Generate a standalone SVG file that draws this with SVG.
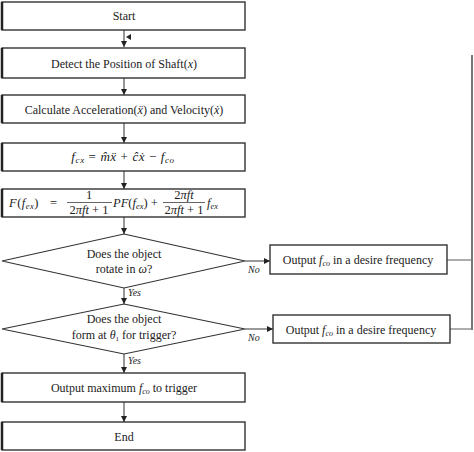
<svg xmlns="http://www.w3.org/2000/svg" width="474" height="452" viewBox="0 0 474 452">
<defs>
<marker id="ah" viewBox="0 0 6 6" refX="6" refY="3" markerWidth="6" markerHeight="6" markerUnits="userSpaceOnUse" orient="auto">
<path d="M0,0 L6,3 L0,6 z" fill="#222"/>
</marker>
</defs>
<style>
text{font-family:'Liberation Serif','Times New Roman','DejaVu Serif',serif}
.box{fill:#fff;stroke:#333;stroke-width:1.4}
.edge{stroke:#222;stroke-width:2.5}
.t{font-size:12px;fill:#222;text-anchor:middle}
.m{font-size:13px;fill:#222;font-style:italic}
.f{font-size:12.5px;fill:#222;font-style:italic}
.n{font-style:normal}
.lbl{font-size:10px;fill:#222;font-style:italic}
.c{stroke:#333;stroke-width:1;fill:none}
.g{stroke:#777;stroke-width:1.2;fill:none}
</style>
<g id="connectors">
<line class="c" x1="124" y1="30" x2="124" y2="47" marker-end="url(#ah)"/>
<path d="M131,34 L126,37 L131,40 z" fill="#222"/>
<line class="c" x1="124" y1="78" x2="124" y2="95" marker-end="url(#ah)"/>
<line class="c" x1="124" y1="123" x2="124" y2="143" marker-end="url(#ah)"/>
<line class="c" x1="124" y1="171" x2="124" y2="189" marker-end="url(#ah)"/>
<line class="c" x1="124" y1="217" x2="124" y2="234" marker-end="url(#ah)"/>
<line class="c" x1="124" y1="288" x2="124" y2="304" marker-end="url(#ah)"/>
<line class="c" x1="124" y1="354" x2="124" y2="373" marker-end="url(#ah)"/>
<line class="c" x1="124" y1="402" x2="124" y2="422" marker-end="url(#ah)"/>
<line class="c" x1="245" y1="261" x2="270" y2="261" marker-end="url(#ah)"/>
<line class="c" x1="245" y1="329" x2="273" y2="329" marker-end="url(#ah)"/>
<polyline class="g" points="447,260 472,260"/>
<polyline class="g" points="450,329 472,329"/>
<line x1="472" y1="55" x2="472" y2="330" stroke="#777" stroke-width="2"/>
<text class="lbl" x="128" y="296">Yes</text>
<text class="lbl" x="128" y="364">Yes</text>
<text class="lbl" x="248" y="273">No</text>
<text class="lbl" x="248" y="341">No</text>
</g>
<g id="start">
<rect class="box" x="2" y="2" width="243" height="28"/>
<line class="edge" x1="2" y1="2" x2="2" y2="30"/>
<text class="t" x="124" y="20">Start</text>
</g>
<g id="detect">
<rect class="box" x="2" y="48" width="243" height="30"/>
<line class="edge" x1="2" y1="48" x2="2" y2="78"/>
<text class="t" x="124" y="68">Detect the Position of Shaft(<tspan font-style="italic">x</tspan>)</text>
</g>
<g id="calc">
<rect class="box" x="2" y="95" width="243" height="28"/>
<line class="edge" x1="2" y1="95" x2="2" y2="123"/>
<text class="t" x="124" y="114">Calculate Acceleration(<tspan font-style="italic">ẍ</tspan>) and Velocity(<tspan font-style="italic">ẋ</tspan>)</text>
</g>
<g id="fcx">
<rect class="box" x="2" y="143" width="243" height="28"/>
<line class="edge" x1="2" y1="143" x2="2" y2="171"/>
<text class="m" x="123" y="161" text-anchor="middle" letter-spacing="0.6">f<tspan font-size="9" dy="2">cx</tspan><tspan dy="-2" class="n"> = </tspan>m̂ẍ<tspan class="n"> + </tspan>ĉẋ<tspan class="n"> − </tspan>f<tspan font-size="9" dy="2">co</tspan></text>
</g>
<g id="filter">
<rect class="box" x="2" y="189" width="243" height="28"/>
<line class="edge" x1="2" y1="189" x2="2" y2="217"/>
<text class="f" x="9" y="207" letter-spacing="0.5">F<tspan class="n">(</tspan>f<tspan font-size="8.5" dy="2">ex</tspan><tspan dy="-2" class="n">)</tspan></text>
<text class="f" x="50" y="207"><tspan class="n">=</tspan></text>
<text class="f" x="89" y="199" text-anchor="middle"><tspan class="n">1</tspan></text>
<line x1="67" y1="202.5" x2="112" y2="202.5" stroke="#222" stroke-width="0.7"/>
<text class="f" x="89" y="214" text-anchor="middle"><tspan class="n">2</tspan>πft<tspan class="n"> + 1</tspan></text>
<text class="f" x="113" y="207">PF<tspan class="n">(</tspan>f<tspan font-size="8.5" dy="2">ex</tspan><tspan dy="-2" class="n">) +</tspan></text>
<text class="f" x="184" y="199" text-anchor="middle"><tspan class="n">2</tspan>πft</text>
<line x1="163" y1="202.5" x2="205" y2="202.5" stroke="#222" stroke-width="0.7"/>
<text class="f" x="184" y="214" text-anchor="middle"><tspan class="n">2</tspan>πft<tspan class="n"> + 1</tspan></text>
<text class="f" x="207" y="207">f<tspan font-size="8.5" dy="2">ex</tspan></text>
</g>
<g id="decision1">
<polygon points="124,234 245,261 124,288 2,261" fill="#fff" stroke="#333" stroke-width="1.2"/>
<text class="t" x="124" y="258">Does the object</text>
<text class="t" x="124" y="273">rotate in <tspan font-style="italic">ω</tspan>?</text>
</g>
<g id="decision2">
<polygon points="124,304 245,329 124,354 2,329" fill="#fff" stroke="#333" stroke-width="1.2"/>
<text class="t" x="124" y="323">Does the object</text>
<text class="t" x="124" y="339">form at <tspan font-style="italic">θ</tspan><tspan font-size="7" dy="2">1</tspan><tspan dy="-2"> for trigger?</tspan></text>
</g>
<g id="outmax">
<rect class="box" x="2" y="373" width="243" height="29"/>
<line class="edge" x1="2" y1="373" x2="2" y2="402"/>
<text class="t" x="124" y="392">Output maximum <tspan font-style="italic">f</tspan><tspan font-style="italic" font-size="8" dy="2">co</tspan><tspan dy="-2"> to trigger</tspan></text>
</g>
<g id="end">
<rect class="box" x="2" y="422" width="243" height="28"/>
<line class="edge" x1="2" y1="422" x2="2" y2="450"/>
<text class="t" x="124" y="441">End</text>
</g>
<g id="out1">
<rect class="box" x="270" y="245" width="177" height="29"/>
<text class="t" x="358" y="264">Output <tspan font-style="italic">f</tspan><tspan font-style="italic" font-size="8" dy="2">co</tspan><tspan dy="-2"> in a desire frequency</tspan></text>
</g>
<g id="out2">
<rect class="box" x="273" y="315" width="177" height="28"/>
<text class="t" x="361" y="334">Output <tspan font-style="italic">f</tspan><tspan font-style="italic" font-size="8" dy="2">co</tspan><tspan dy="-2"> in a desire frequency</tspan></text>
</g>
</svg>
